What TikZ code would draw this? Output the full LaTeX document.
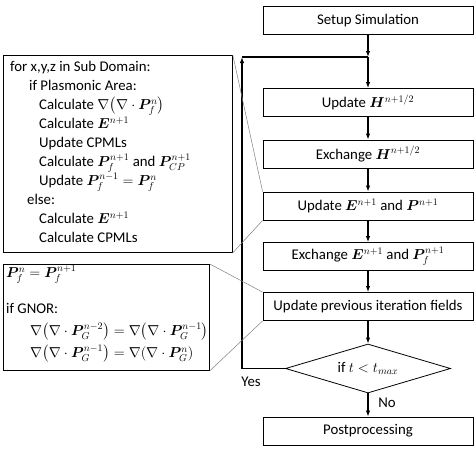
\documentclass[tikz,border=0pt]{standalone}
\usepackage{amsmath,bm}
\usepackage{fontspec}
\setmainfont{Carlito}
\usetikzlibrary{shapes.geometric,arrows.meta}

\tikzset{
  stepbox/.style={draw, line width=0.8pt, minimum width=210pt, minimum height=28pt, inner sep=0pt},
  flow/.style={line width=1.4pt, -{Latex[length=6pt,width=4.5pt]}},
  callout/.style={draw=gray, line width=0.5pt},
  codebox/.style={draw, line width=0.8pt, anchor=north west, inner sep=0pt},
  codetext/.style={align=left, anchor=north west, inner sep=0pt}
}

\begin{document}
\begin{tikzpicture}[x=1pt,y=-1pt,font=\fontsize{14.8}{19}\selectfont]
\useasboundingbox (0,0) rectangle (474,451);

% Draw the main flow boxes
\node[stepbox] (setup) at (368,20.5) {Setup Simulation};
\node[stepbox] (updh) at (368,102.5) {Update $\bm{H}^{n+1/2}$};
\node[stepbox] (exh) at (368,154) {Exchange $\bm{H}^{n+1/2}$};
\node[stepbox] (upde) at (368,206) {Update $\bm{E}^{n+1}$ and $\bm{P}^{n+1}$};
\node[stepbox] (exe) at (368,256.5) {Exchange $\bm{E}^{n+1}$ and $\bm{P}_f^{n+1}$};
\node[stepbox] (updprev) at (368,306.5) {Update previous iteration fields};
\node[draw, diamond, line width=0.8pt, aspect=3.4, minimum width=165pt, minimum height=49pt, inner sep=0pt] (check) at (368,368.5) {if $t < t_{max}$};
\node[stepbox] (post) at (368,431) {Postprocessing};

% Loop corners
\coordinate (join) at (368,57);
\coordinate (back) at (242,57);

% Draw the arrows
\draw[flow] (setup) -- (join);
\draw[flow] (join) -- (updh);
\draw[flow] (updh) -- (exh);
\draw[flow] (exh) -- (upde);
\draw[flow] (upde) -- (exe);
\draw[flow] (exe) -- (updprev);
\draw[flow] (updprev) -- (check);
\draw[flow] (check) -- (post);
\draw[flow] (check.west) -| (back);
\draw[line width=1.4pt] (back) -- (join);

% Branch labels
\node (yes) at (251,382) {Yes};
\node (no) at (387,403) {No};

% Detail of the update step
\node[codebox, minimum width=229pt, minimum height=197pt] (calcbox) at (3,55) {};
\node[codetext] (calctext) at (10,61) {%
for x,y,z in Sub Domain:\\
\hspace*{19pt}if Plasmonic Area:\\
\hspace*{29pt}Calculate $\nabla\bigl(\nabla\cdot\bm{P}_f^n\bigr)$\\
\hspace*{29pt}Calculate $\bm{E}^{n+1}$\\
\hspace*{29pt}Update CPMLs\\
\hspace*{29pt}Calculate $\bm{P}_f^{n+1}$ and $\bm{P}_{CP}^{n+1}$\\
\hspace*{29pt}Update $\bm{P}_f^{n-1}=\bm{P}_f^n$\\
\hspace*{17pt}else:\\
\hspace*{29pt}Calculate $\bm{E}^{n+1}$\\
\hspace*{29pt}Calculate CPMLs};

% Detail of the previous iteration step
\node[codebox, minimum width=206pt, minimum height=106pt] (swapbox) at (3,264) {};
\node[codetext] (swaptext) at (6,265) {%
$\bm{P}_f^n=\bm{P}_f^{n+1}$\\[17pt]
if GNOR:\\[3pt]
\hspace*{24pt}$\nabla\bigl(\nabla\cdot\bm{P}_G^{n-2}\bigr)=\nabla\bigl(\nabla\cdot\bm{P}_G^{n-1}\bigr)$\\[3pt]
\hspace*{24pt}$\nabla\bigl(\nabla\cdot\bm{P}_G^{n-1}\bigr)=\nabla(\nabla\cdot\bm{P}_G^{n})$};

% Callout lines
\draw[callout] (calcbox.north east) -- (upde.north west);
\draw[callout] (calcbox.south east) -- (upde.south west);
\draw[callout] (swapbox.north east) -- (updprev.north west);
\draw[callout] (swapbox.south east) -- (updprev.south west);
\end{tikzpicture}
\end{document}
